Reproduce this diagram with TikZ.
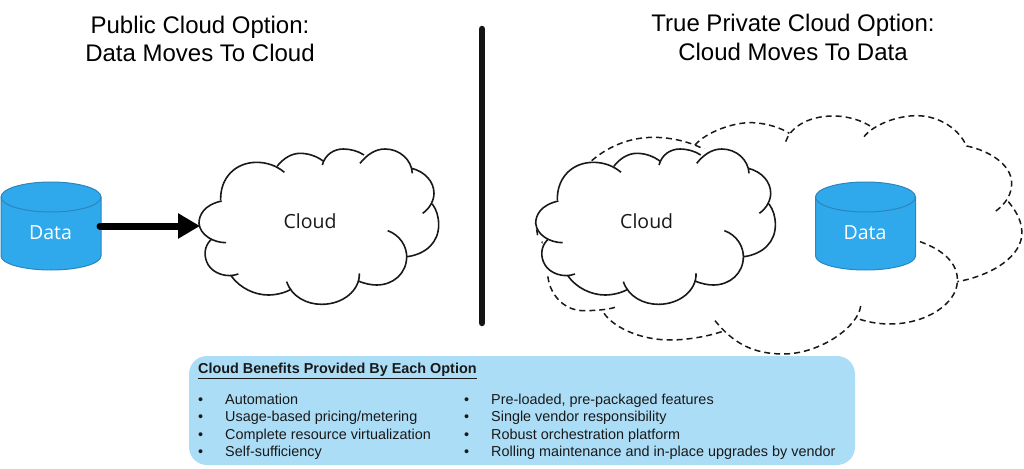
\documentclass[tikz,border=0pt]{standalone}
\usepackage{fontspec}
\setmainfont{Liberation Sans}
\newfontfamily\uifont{Open Sans}
\usetikzlibrary{arrows.meta}
\definecolor{cyl}{HTML}{2FA9EC}
\definecolor{cylline}{HTML}{2A86BC}
\definecolor{panel}{HTML}{ACDDF7}
\tikzset{
  titletext/.style={align=center,font=\fontsize{24}{28.5}\selectfont,inner sep=0pt,text=black},
  uitext/.style={font=\uifont\fontsize{19.5}{22}\selectfont,inner sep=0pt},
  bodytext/.style={anchor=base west,font=\fontsize{14.4}{16}\selectfont,inner sep=0pt,text=black!90},
  cloudline/.style={line width=1.6pt,draw=black!90},
  dashline/.style={line width=1.5pt,draw=black!90,dash pattern=on 6pt off 4pt},
}
\newcommand{\lobes}{
  (665,213) .. controls (612,225) and (597,255) .. (597,280) .. controls (600,315) and (640,338) .. (678,338)
  (632,330) .. controls (612,350) and (610,380) .. (625,405) .. controls (640,430) and (680,445) .. (715,432)
  (693,437) .. controls (720,475) and (765,495) .. (805,495) .. controls (830,495) and (855,488) .. (873,478)
  (860,455) .. controls (875,500) and (920,523) .. (965,523) .. controls (1030,523) and (1080,480) .. (1078,430)
  (1073,452) .. controls (1095,462) and (1115,465) .. (1130,465) .. controls (1180,465) and (1220,430) .. (1220,380)
  (1163,302) .. controls (1200,315) and (1222,350) .. (1220,385)
  (1222,380) .. controls (1280,372) and (1316,335) .. (1316,285) .. controls (1316,260) and (1310,240) .. (1297,222)
  (1268,250) .. controls (1290,235) and (1302,210) .. (1302,190) .. controls (1302,155) and (1275,125) .. (1235,115)
  (1237,130) .. controls (1235,90) and (1200,57) .. (1155,57) .. controls (1125,57) and (1100,75) .. (1080,100)
  (1092,75) .. controls (1075,63) and (1050,57) .. (1030,57) .. controls (1000,57) and (975,75) .. (967,105)
  (972,95) .. controls (950,78) and (925,70) .. (900,70) .. controls (875,70) and (850,85) .. (832,108)
  (853,127) .. controls (830,107) and (800,97) .. (770,97) .. controls (705,97) and (660,145) .. (662,210)
}
\newcommand{\solidcloud}{
  \fill[white] (665,213) -- (612,280) -- (625,405) -- (805,495) -- (965,523) -- (1130,465) -- (1316,285) -- (1302,190) -- (1235,115) -- (1155,57) -- (1030,57) -- (900,70) -- (770,97) -- cycle;
  \fill[white] \lobes;
  \draw[cloudline] \lobes;
}
\newcommand{\datacyl}{
  \path[fill=cyl,draw=cylline,line width=1pt] (1,197) -- (1,256) arc[start angle=180,end angle=360,x radius=50,y radius=-14] -- (101,197) arc[start angle=0,end angle=180,x radius=50,y radius=-15] -- cycle;
  \path[draw=cylline,line width=1pt] (1,197) arc[start angle=180,end angle=360,x radius=50,y radius=-15];
}
\begin{document}
\begin{tikzpicture}[x=1pt,y=-1pt]
\useasboundingbox (0,0) rectangle (1024,468);
% titles
\node[titletext] (titleL) at (200,39) {Public Cloud Option:\\Data Moves To Cloud};
\node[titletext] (titleR) at (793,37.5) {True Private Cloud Option:\\Cloud Moves To Data};
% divider
\coordinate (divtop) at (482,29);
\coordinate (divbot) at (482,323);
\draw[line width=6.5pt,line cap=round,black!92] (divtop) -- (divbot);
% left cylinder
\datacyl
\node[uitext,text=white] (dataL) at (50.5,233) {Data};
% left cloud
\begin{scope}[shift={(0,130)},scale=1/3]
\solidcloud
\end{scope}
\node[uitext,text=black!90] (cloudL) at (310,221.5) {Cloud};
% arrow
\coordinate (arrowfrom) at (100,226);
\coordinate (arrowto) at (200,226);
\draw[line width=7pt,line cap=round,-{Triangle[length=22pt,width=24pt]}] (arrowfrom) -- (arrowto);
% dashed cloud
\begin{scope}[shift={(520,100)},scale=1/3]
\draw[dashline]
  (215,182) .. controls (270,135) and (335,112) .. (400,112) .. controls (460,112) and (520,128) .. (565,155)
  (525,135) .. controls (560,95) and (640,68) .. (690,68) .. controls (740,68) and (785,85) .. (808,100)
  (797,125) .. controls (810,85) and (860,48) .. (940,48) .. controls (990,48) and (1030,65) .. (1050,78)
  (1032,110) .. controls (1060,75) and (1130,47) .. (1190,47) .. controls (1260,47) and (1320,90) .. (1340,140)
  (1340,138) .. controls (1400,150) and (1475,190) .. (1475,250) .. controls (1475,280) and (1460,310) .. (1425,335)
  (1465,305) .. controls (1490,335) and (1510,370) .. (1505,410) .. controls (1495,480) and (1400,530) .. (1312,545)
  (1200,425) .. controls (1270,450) and (1315,490) .. (1312,545) .. controls (1310,610) and (1220,672) .. (1110,672) .. controls (1070,672) and (1040,665) .. (1010,655)
  (1022,618) .. controls (1015,680) and (900,762) .. (790,762) .. controls (700,762) and (640,730) .. (585,662)
  (605,695) .. controls (560,710) and (500,720) .. (450,720) .. controls (360,720) and (270,680) .. (245,628)
  (285,622) .. controls (260,630) and (220,632) .. (190,632) .. controls (130,632) and (85,580) .. (83,520)
  (65,425) -- (78,436)
  (50,388) -- (53,408);
\end{scope}
% right cloud
\begin{scope}[shift={(336.7,0)}]
\begin{scope}[shift={(0,130)},scale=1/3]
\solidcloud
\end{scope}
\end{scope}
\node[uitext,text=black!90] (cloudR) at (646.7,221.5) {Cloud};
% right cylinder
\begin{scope}[shift={(814.5,0)}]
\datacyl
\end{scope}
\node[uitext,text=white] (dataR) at (865,233) {Data};
% panel
\path[fill=panel,rounded corners=18pt] (189,356) rectangle (855,465);
\node[bodytext,font=\bfseries\fontsize{14.4}{16}\selectfont] (head) at (198,373.5) {\underline{Cloud Benefits Provided By Each Option}};
\foreach \nm/\yy/\a/\b in {1/404/Automation/{Pre-loaded, pre-packaged features},
  2/421/Usage-based pricing\slash metering/Single vendor responsibility,
  3/439/Complete resource virtualization/Robust orchestration platform,
  4/456/Self-sufficiency/Rolling maintenance and in-place upgrades by vendor}{
  \node[bodytext] (bl\nm) at (198,\yy) {•};
  \node[bodytext] (tl\nm) at (225,\yy) {\a};
  \node[bodytext] (br\nm) at (464,\yy) {•};
  \node[bodytext] (tr\nm) at (491,\yy) {\b};
}
\end{tikzpicture}
\end{document}
